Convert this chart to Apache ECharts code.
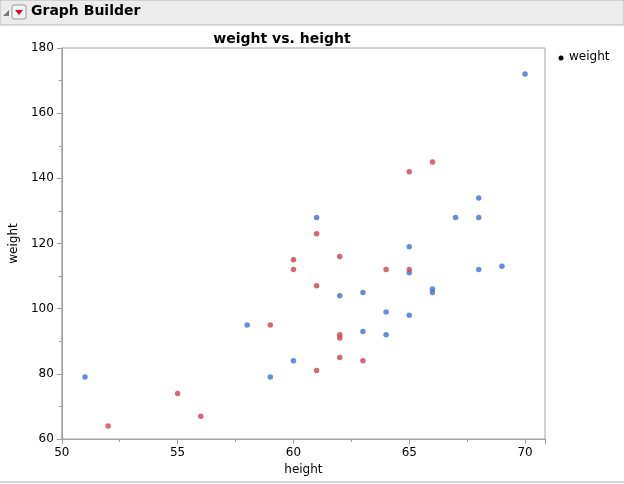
<!DOCTYPE html>
<html><head><meta charset="utf-8">
<script src="https://cdn.jsdelivr.net/npm/echarts@6/dist/echarts.min.js"></script>
<style>html,body{margin:0;padding:0;background:#fff}#c{width:624px;height:484px}</style>
</head><body><div id="c"></div>
<script>
// height, weight pairs split by group colour
var blueHeight = [51, 58, 59, 60, 61, 62, 63, 63, 64, 64, 65, 65, 65, 66, 66, 67, 68, 68, 68, 69, 70];
var blueWeight = [79, 95, 79, 84, 128, 104, 105, 93, 99, 92, 119, 111, 98, 106, 105, 128, 134, 128, 112, 113, 172];
var redHeight = [52, 55, 56, 59, 60, 60, 61, 61, 61, 62, 62, 62, 62, 63, 64, 65, 65, 66];
var redWeight = [64, 74, 67, 95, 115, 112, 123, 107, 81, 116, 92, 91, 85, 84, 112, 142, 112, 145];

function pairs(xs, ys) {
  return xs.map(function (x, i) { return [x, ys[i]]; });
}

var chart = echarts.init(document.getElementById("c"));
var axisText = { color: "#000", fontFamily: "Segoe UI, DejaVu Sans", fontSize: 12 };
chart.setOption({
  animation: false,
  graphic: [
    { type: "rect", shape: { x: 0, y: 0, width: 624, height: 25 }, style: { fill: "#ececec", stroke: "#b8b8b8" } },
    { type: "polygon", shape: { points: [[3, 16], [9, 10], [9, 16]] }, style: { fill: "#777" } },
    { type: "rect", shape: { x: 12, y: 5, width: 14, height: 14, r: 2 }, style: { fill: "#f4f4f4", stroke: "#999" } },
    { type: "polygon", shape: { points: [[15, 10], [23, 10], [19, 15]] }, style: { fill: "#d0121b" } },
    { type: "text", left: 31, top: 4, style: { text: "Graph Builder", font: "bold 14px DejaVu Sans", fill: "#000" } },
    { type: "line", shape: { x1: 0, y1: 482, x2: 624, y2: 482 }, style: { stroke: "#aaa" } },
    { type: "circle", shape: { cx: 561, cy: 58, r: 2.5 }, style: { fill: "#000" } },
    { type: "text", left: 569, top: 51, style: { text: "weight", font: "12px DejaVu Sans", fill: "#000" } }
  ],
  title: {
    text: "weight vs. height", left: 277, top: 27, textAlign: "center",
    textStyle: { fontSize: 14, fontWeight: "bold", fontFamily: "DejaVu Sans", color: "#000" }
  },
  grid: { left: 61, right: 79, top: 48, bottom: 45, show: true, borderColor: "#a0a0a0", borderWidth: 1 },
  xAxis: {
    type: "value", min: 50, max: 70.86, interval: 5, name: "height", nameLocation: "middle", nameGap: 24,
    nameTextStyle: axisText, axisLabel: axisText,
    axisLine: { lineStyle: { color: "#a0a0a0" } },
    axisTick: { lineStyle: { color: "#a0a0a0" }, length: 5 },
    minorTick: { show: true, splitNumber: 2, length: 3, lineStyle: { color: "#a0a0a0" } },
    splitLine: { show: false }
  },
  yAxis: {
    type: "value", min: 60, max: 180, interval: 20, name: "weight", nameLocation: "middle", nameGap: 34,
    nameTextStyle: axisText, axisLabel: axisText,
    axisLine: { show: true, lineStyle: { color: "#a0a0a0" } },
    axisTick: { show: true, lineStyle: { color: "#a0a0a0" }, length: 5 },
    minorTick: { show: true, splitNumber: 2, length: 3, lineStyle: { color: "#a0a0a0" } },
    splitLine: { show: false }
  },
  series: [
    { type: "scatter", data: pairs(blueHeight, blueWeight), symbolSize: 5.5, itemStyle: { color: "#3f6fd6" } },
    { type: "scatter", data: pairs(redHeight, redWeight), symbolSize: 5.5, itemStyle: { color: "#d0414f" } }
  ]
});
</script></body></html>
